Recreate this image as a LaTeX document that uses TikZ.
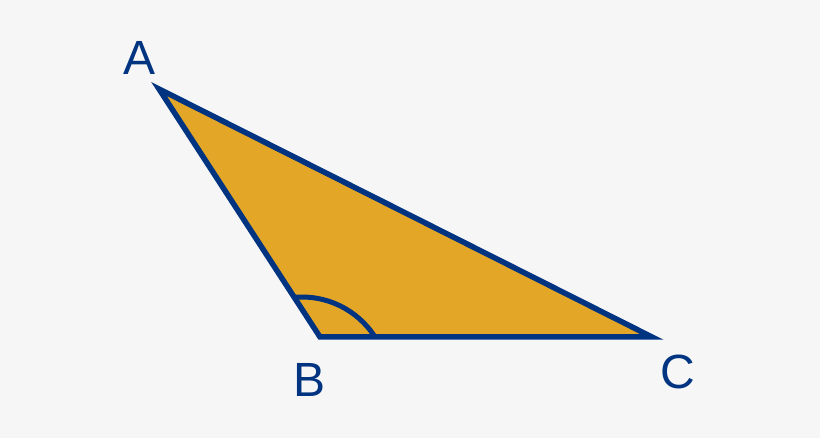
\documentclass[tikz,border=0pt]{standalone}
\usepackage{fontspec}
\setmainfont{Liberation Sans}
\definecolor{bgcol}{HTML}{F6F6F7}
\definecolor{triblue}{HTML}{003481}
\definecolor{trifill}{HTML}{E3A626}
\tikzset{
  side/.style={draw=triblue,line width=5.5pt,fill=trifill},
  vlabel/.style={text=triblue,font=\fontsize{48}{48}\selectfont,inner sep=0pt}
}
\begin{document}
\begin{tikzpicture}[x=1pt,y=1pt]
            \fill[bgcol](0,0)rectangle(820,438);
            \useasboundingbox(0,0)rectangle(820,438);
            \coordinate(A)at(159,349);\coordinate(B)at(320,101);
            \coordinate(C)at(652,101);\coordinate(O)at(302,54.4);
            \draw[side](A)--(B)--(C)--cycle;
            \draw[triblue,line width=5pt](O)++(32.6:86.6pt)arc[start angle=32.6,end angle=95.2,radius=86.6pt];
            \node[vlabel](lA)at(140,380){A};
            \node[vlabel](lB)at(310,58){B};
            \node[vlabel](lC)at(678,66){C};
        \end{tikzpicture}
\end{document}
